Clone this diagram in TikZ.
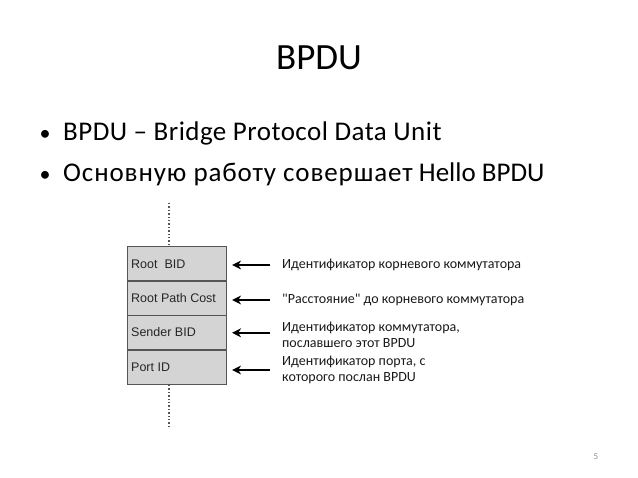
\documentclass[tikz,border=0pt]{standalone}
\usepackage{fontspec}
\setmainfont{Carlito}
\newfontfamily\arialf{Liberation Sans}
\newfontfamily\widecyr[LetterSpace=3.3]{Carlito}
\newfontfamily\widelat[LetterSpace=1.7]{Carlito}
\usetikzlibrary{arrows.meta}
\definecolor{boxfill}{HTML}{D4D4D4}
\definecolor{boxline}{HTML}{555555}
\definecolor{pgnum}{HTML}{8A8A8A}
\tikzset{
  field/.style={draw=boxline, line width=1.1pt, fill=boxfill, minimum width=99pt, minimum height=34.5pt, anchor=north west, inner sep=0pt},
  fieldlabel/.style={anchor=west, inner sep=0pt, font=\arialf\fontsize{12.5}{14}\selectfont, text=black!85},
  desc/.style={anchor=west, align=left, inner sep=0pt, font=\fontsize{14}{16.5}\selectfont, text=black!90},
  arr/.style={line width=2pt, -{Stealth[length=9pt,width=9pt]}, shorten >=5pt, shorten <=12pt},
  dots/.style={line width=1.4pt, dotted, boxline},
  bullettext/.style={anchor=base west, inner sep=0pt, font=\fontsize{27}{30}\selectfont},
  bulletmark/.style={anchor=base, inner sep=0pt, font=\fontsize{22}{26}\selectfont},
}
\begin{document}
\begin{tikzpicture}[x=1pt,y=-1pt]
\useasboundingbox (0,0) rectangle (638,478);
\node[anchor=base, font=\fontsize{37}{40}\selectfont] (title) at (319,69.5) {BPDU};
\node[bullettext] (b1) at (63,141) {\widelat BPDU – Bridge Protocol Data Unit};
\node[bullettext] (b2) at (63,182) {{\widecyr Основную работу совершает} Hello BPDU};
\node[bulletmark] (bu1) at (45,141) {•};
\node[bulletmark] (bu2) at (45,182) {•};

\node[field] (r1) at (127,246) {};
\node[field] (r2) at (127,280.5) {};
\node[field] (r3) at (127,315) {};
\node[field] (r4) at (127,349.5) {};
\node[fieldlabel] (l1) at (131,264) {Root\ \ BID};
\node[fieldlabel] (l2) at (131,298) {Root Path Cost};
\node[fieldlabel] (l3) at (131,332) {Sender BID};
\node[fieldlabel] (l4) at (131,367) {Port ID};

\coordinate (dtop) at (169,203);
\coordinate (dbot) at (169,429);
\draw[dots] (dtop) -- (dtop |- r1.north);
\draw[dots] (dtop |- r4.south) -- (dbot);

\node[desc] (t1) at (282,265) {Идентификатор корневого коммутатора};
\node[desc] (t2) at (282,300) {\textquotedbl Расстояние\textquotedbl{} до корневого коммутатора};
\node[desc] (t3) at (282,335) {Идентификатор коммутатора,\\послав\-шего этот BPDU};
\node[desc] (t4) at (282,370) {Идентификатор порта, с\\которого послан BPDU};

\draw[arr] (t1.west) -- (t1.west -| r1.east);
\draw[arr] (t2.west) -- (t2.west -| r2.east);
\draw[arr] (r3.east -| t3.west) -- (r3.east);
\draw[arr] (t4.west) -- (t4.west -| r4.east);

\node[font=\fontsize{9}{10}\selectfont, text=pgnum] (pg) at (596,457) {5};
\end{tikzpicture}
\end{document}
